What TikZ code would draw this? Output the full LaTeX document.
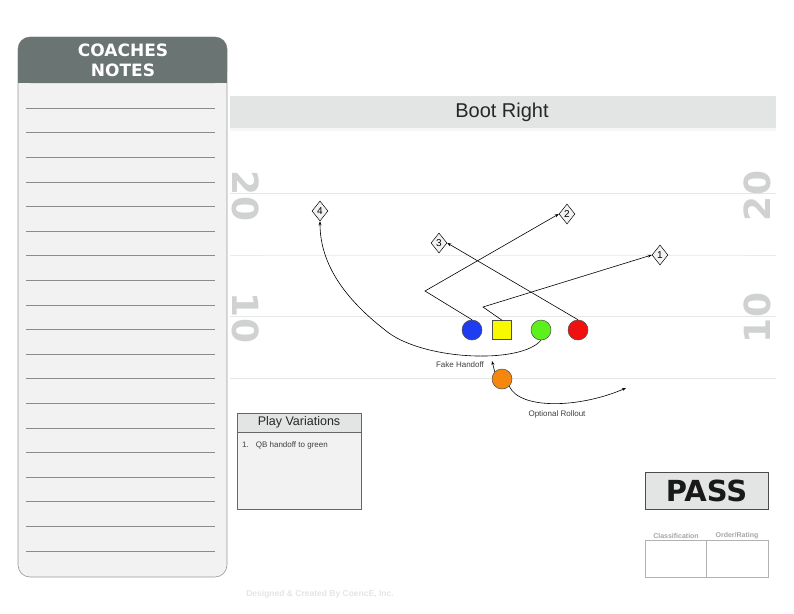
\documentclass[tikz,border=0pt]{standalone}
\usepackage{fontspec}
\setmainfont{Liberation Sans}
\newfontfamily\blockfont{DejaVu Sans}
\usetikzlibrary{shapes.geometric,arrows.meta}
\definecolor{hdr}{HTML}{6A7472}
\definecolor{barfill}{HTML}{E3E5E5}
\definecolor{bodyfill}{HTML}{F2F2F2}
\definecolor{edge}{HTML}{9A9A9A}
\definecolor{yard}{HTML}{D0D2D2}
\definecolor{fieldline}{HTML}{E6E8E8}
\definecolor{pblue}{HTML}{1E3CF0}
\definecolor{pyellow}{HTML}{F8F800}
\definecolor{pgreen}{HTML}{5EF01A}
\definecolor{pred}{HTML}{F01010}
\definecolor{porange}{HTML}{F5870F}
\begin{document}
\begin{tikzpicture}[x=1pt,y=-1pt,
  player/.style={circle,draw=black!70,line width=0.5pt,minimum size=20pt,inner sep=0pt},
  target/.style={diamond,draw=black,fill=bodyfill,line width=0.5pt,inner sep=0.5pt,minimum width=16pt,minimum height=20pt,font=\fontsize{10}{11}\selectfont},
  route/.style={line width=0.6pt,-{Stealth[length=4pt,width=3pt]}},
  yardnum/.style={text=yard,font=\blockfont\bfseries\fontsize{36}{36}\selectfont,inner sep=0pt},
  small/.style={font=\fontsize{8}{9}\selectfont,text=black!75,inner sep=0pt},
  noteline/.style={draw=black!45,line width=0.5pt}]
\useasboundingbox (0,0) rectangle (794,613);
\fill[white] (0,0) rectangle (794,613);
% coaches notes panel
\draw[edge,fill=bodyfill,rounded corners=12pt,line width=0.6pt] (18,37) rectangle (227,577);
\fill[hdr,rounded corners=12pt] (18,37) -- (18,83) -- (227,83) -- (227,37) -- cycle;
\fill[hdr] (18,60) rectangle (227,83);
\node[text=white,font=\blockfont\bfseries\fontsize{17}{20}\selectfont,align=center] (cn) at (123,60) {COACHES\\NOTES};
\foreach \i in {0,...,18}{
  \draw[noteline] (26,{108+\i*24.6}) -- (215,{108+\i*24.6});
}
% title bar
\fill[barfill] (230,96) rectangle (776,128);
\node[font=\fontsize{20}{22}\selectfont,text=black!85] (title) at (502,112) {Boot Right};
\fill[bodyfill!60] (230,128) rectangle (776,131);
% field lines
\draw[fieldline,line width=0.8pt] (230,193) -- (776,193);
\draw[fieldline!70,line width=0.6pt] (230,255) -- (776,255);
\draw[fieldline!80!black!30,line width=0.8pt] (230,255) -- (262,255);
\draw[fieldline!80!black!30,line width=0.8pt] (745,255) -- (776,255);
\draw[fieldline,line width=0.8pt] (230,316) -- (776,316);
\draw[fieldline,line width=0.8pt] (230,378) -- (776,378);
% yard numbers
\node[yardnum,rotate=-90] (l20) at (246,196) {20};
\node[yardnum,rotate=-90] (l10) at (246,318) {10};
\node[yardnum,rotate=90] (r20) at (757,196) {20};
\node[yardnum,rotate=90] (r10) at (757,318) {10};
% players
\node[player,fill=pblue] (blue) at (472,330) {};
\node[draw=black!70,fill=pyellow,line width=0.5pt,minimum size=19pt,inner sep=0pt] (yellow) at (502,330) {};
\node[player,fill=pgreen] (green) at (541,330) {};
\node[player,fill=pred] (red) at (578,330) {};
\node[player,fill=porange] (orange) at (502,379) {};
% targets
\node[target] (t4) at (320,211) {4};
\node[target] (t2) at (567,214) {2};
\node[target] (t3) at (439,243) {3};
\node[target] (t1) at (660,255) {1};
% routes
\coordinate (b1) at (425,291);
\coordinate (y1) at (483,307);
\draw[route] (blue.north) -- (b1) -- (t2.west);
\draw[route] (yellow.north) -- (y1) -- (t1.west);
\draw[route] (red.north) -- (t3.east);
\draw[route] (green.south) .. controls (520,365) and (420,360) .. (385,330)
  .. controls (340,295) and (320,260) .. (t4.south);
\draw[route] (orange.north west) -- (492,361);
\node[small] (fake) at (460,365) {Fake Handoff};
\coordinate (roll) at (626,388);
\draw[route] (orange.south east) .. controls (520,410) and (580,408) .. (roll);
\node[small] (opt) at (557,414) {Optional Rollout};
% play variations
\draw[black!60,fill=bodyfill,line width=0.6pt] (237,413) rectangle (361,509);
\draw[black!60,fill=barfill,line width=0.6pt] (237,413) rectangle (361,432);
\node[font=\fontsize{12.5}{13}\selectfont,text=black!85] (pv) at (299,422.5) {Play Variations};
\node[small,anchor=west] (pv1) at (242,445) {1.\hspace{7pt}QB handoff to green};
% pass box
\draw[black!70,fill=barfill,line width=0.8pt] (645,472) rectangle (768,509);
\node[font=\blockfont\bfseries\fontsize{29}{30}\selectfont,text=black!90] (pass) at (706.5,491) {PASS};
% classification table
\node[font=\bfseries\fontsize{7}{8}\selectfont,text=black!35] (cls) at (676,536) {Classification};
\node[font=\bfseries\fontsize{7}{8}\selectfont,text=black!35] (ord) at (737,536) {Order/Rating};
\draw[black!30,line width=0.6pt] (645,540) rectangle (768,577);
\draw[black!30,line width=0.6pt] (706,540) -- (706,577);
% footer
\node[font=\bfseries\fontsize{8.5}{9}\selectfont,text=black!10] (foot) at (320,594) {Designed \& Created By CoencE, Inc.};
\end{tikzpicture}
\end{document}
